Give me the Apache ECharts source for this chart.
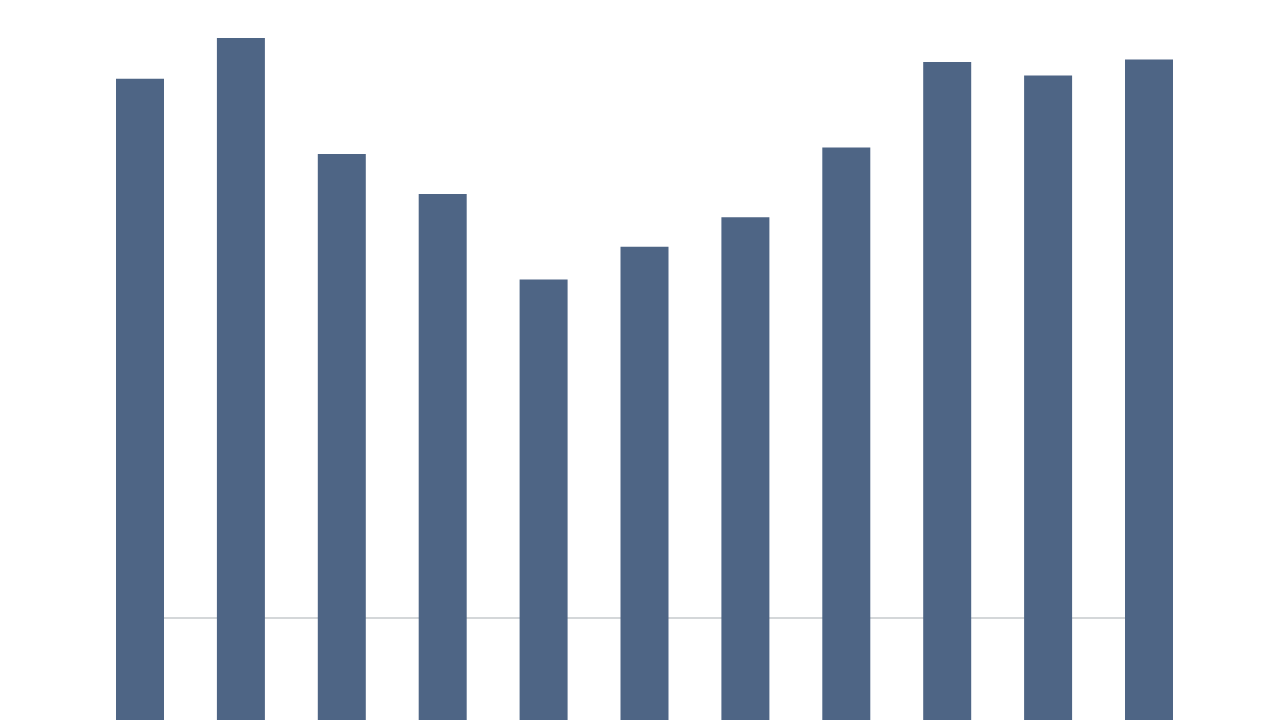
<!DOCTYPE html>
<html>
<head>
<meta charset="utf-8">
<script src="https://cdn.jsdelivr.net/npm/echarts@6/dist/echarts.min.js"></script>
<style>
  html, body { margin: 0; padding: 0; background: #fff; }
  #chart { width: 1280px; height: 720px; }
</style>
</head>
<body>
<div id="chart"></div>
<script>
// 11 bars, values (bars run past the bottom edge)
const categories = ['1', '2', '3', '4', '5', '6', '7', '8', '9', '10', '11'];
const values = [92.4, 97.5, 83.0, 78.0, 67.3, 71.4, 75.1, 83.8, 94.5, 92.8, 94.8];
const refLine = 25;

const myChart = echarts.init(document.getElementById('chart'));
const option = {
  animation: false,
  grid: { left: 140, right: 131, top: 18, bottom: 0 },
  xAxis: {
    type: 'category',
    data: categories,
    boundaryGap: false,
    axisLine: { show: false },
    axisTick: { show: false },
    axisLabel: { show: false }
  },
  yAxis: {
    type: 'value',
    min: 12.25,  // axis starts above 0 so the bars are cut off by the bottom edge
    max: 100,
    splitLine: { show: false },
    axisLine: { show: false },
    axisTick: { show: false },
    axisLabel: { show: false }
  },
  series: [
    {
      // helper series only carrying the grey reference line, kept under the bars
      type: 'line',
      data: [],
      z: 1,
      silent: true,
      markLine: {
        z: 1,
        symbol: 'none',
        silent: true,
        label: { show: false },
        lineStyle: { color: '#c6cacd', type: 'solid', width: 1.5 },
        data: [{ yAxis: refLine }]
      }
    },
    {
      type: 'bar',
      data: values,
      z: 3,
      barWidth: 48,
      itemStyle: { color: '#4e6585' }
    }
  ]
};
myChart.setOption(option);
</script>
</body>
</html>
